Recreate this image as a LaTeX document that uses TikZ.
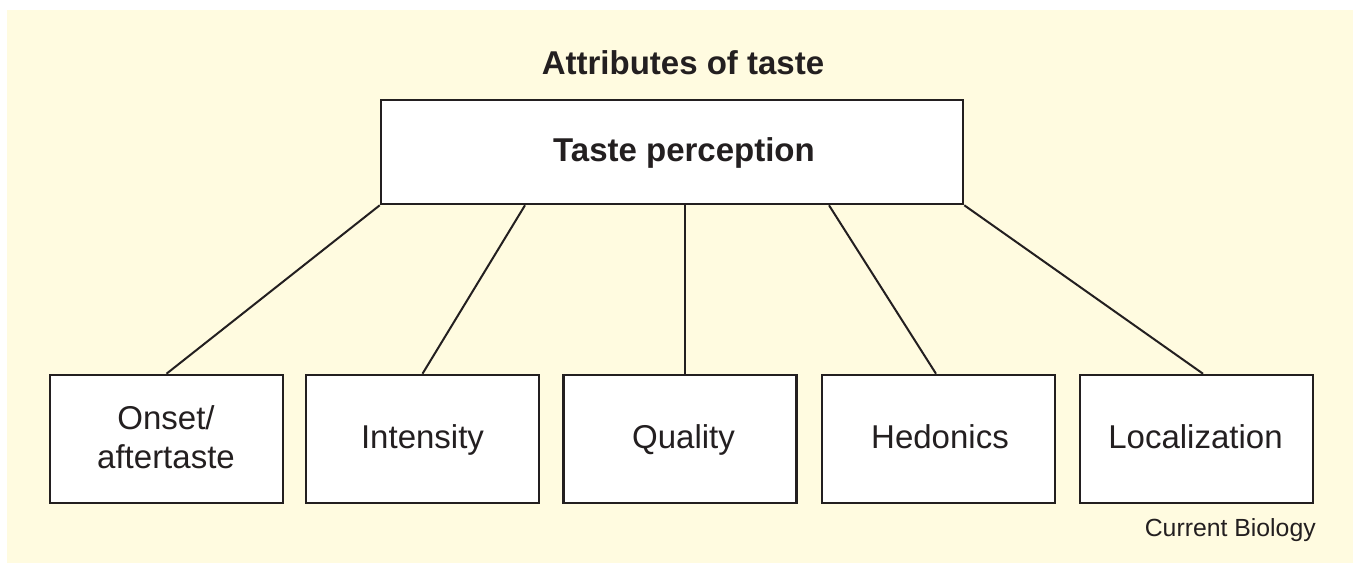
\documentclass[tikz,border=0pt]{standalone}
\usepackage{fontspec}
\setmainfont{Liberation Sans}
\usetikzlibrary{calc}
\definecolor{panel}{RGB}{255,251,224}
\definecolor{ink}{RGB}{35,31,32}
\begin{document}
\begin{tikzpicture}[x=0.75pt,y=-0.75pt,
  box/.style={draw=ink,line width=1.9pt,fill=white,inner sep=0pt,text=ink,align=center,
    font=\fontsize{24.75}{29.25}\selectfont},
  topbox/.style={box,minimum width=582*0.75pt,minimum height=104*0.75pt},
  leaf/.style={box,minimum width=233*0.75pt,minimum height=128*0.75pt},
  lbl/.style={text=ink,inner sep=0pt,text height=17.8pt,text depth=0pt,font=\fontsize{24.75}{29.25}\selectfont},
  link/.style={draw=ink,line width=1.5pt}]
\useasboundingbox (0,0) rectangle (1353,568);
\fill[panel] (7,10) rectangle (1353,563);
\node[lbl,font=\fontsize{24.75}{29.25}\selectfont\bfseries] (title) at (683,63) {Attributes of taste};
\node[topbox] (top) at (672,152) {};
\node[lbl,font=\fontsize{24.75}{29.25}\selectfont\bfseries] (toplbl) at (684,150) {Taste perception};
\node[leaf] (b1) at (166.5,439) {};
\node[leaf] (b2) at (422.5,439) {};
\node[leaf] (b3) at (680,439) {};
\node[leaf] (b4) at (938.5,439) {};
\node[leaf] (b5) at (1196.5,439) {};
\node[text=ink,align=center,inner sep=0pt,font=\fontsize{24.75}{29.25}\selectfont] (l1) at (166,437) {Onset/\\aftertaste};
\node[lbl] (l2) at (422.5,437) {Intensity};
\node[lbl] (l3) at (683.5,437) {Quality};
\node[lbl] (l4) at (940,437) {Hedonics};
\node[lbl] (l5) at (1195.5,437) {Localization};
\node[text=ink,font=\fontsize{18.6}{22}\selectfont,inner sep=0pt,anchor=east] (credit) at (1316,530) {Current Biology};
\draw[link] (top.south west) -- (b1.north);
\draw[link] ([xshift=-147*0.75pt]top.south) -- (b2.north);
\draw[link] ([xshift=13*0.75pt]top.south) -- ([xshift=5*0.75pt]b3.north);
\draw[link] ([xshift=157*0.75pt]top.south) -- ([xshift=-2.5*0.75pt]b4.north);
\draw[link] (top.south east) -- ([xshift=6.5*0.75pt]b5.north);
\end{tikzpicture}
\end{document}
